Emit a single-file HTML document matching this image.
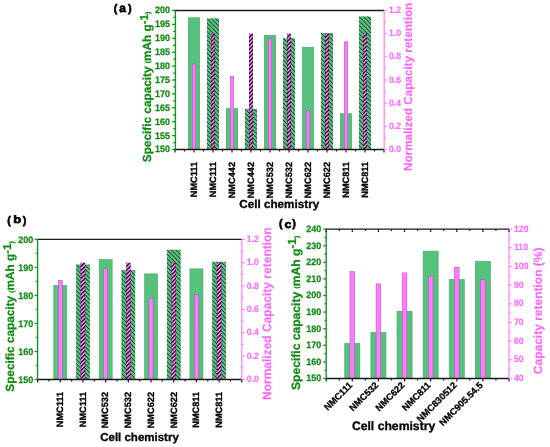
<!DOCTYPE html>
<html><head><meta charset="utf-8"><style>
html,body{margin:0;padding:0;background:#fff;}
body{width:550px;height:447px;overflow:hidden;font-family:"Liberation Sans",sans-serif;}
svg{display:block;will-change:transform;text-rendering:geometricPrecision;}
</style></head><body>
<svg width="550" height="447" viewBox="0 0 550 447">
<defs>
<filter id="sb" x="-0.1" y="-0.1" width="1.2" height="1.2"><feGaussianBlur stdDeviation="0.35"/></filter>
</defs>
<rect width="550" height="447" fill="#fff"/>
<rect x="188.3" y="17.75" width="11.4" height="131.75" fill="#56c17c" stroke="#45a866" stroke-width="0.6"/>
<rect x="192.25" y="64.03" width="3.5" height="85.47" fill="#ff7aff" stroke="#a850a8" stroke-width="0.5"/>
<rect x="207.3" y="18.86" width="11.4" height="130.64" fill="#56c17c" stroke="#45a866" stroke-width="0.6"/>
<clipPath id="c1"><rect x="207" y="18.56" width="12" height="130.94"/></clipPath><path clip-path="url(#c1)" d="M68.4,17.56L201.34,150.5M72.7,17.56L205.64,150.5M77,17.56L209.94,150.5M81.3,17.56L214.24,150.5M85.6,17.56L218.54,150.5M89.9,17.56L222.84,150.5M94.2,17.56L227.14,150.5M98.5,17.56L231.44,150.5M102.8,17.56L235.74,150.5M107.1,17.56L240.04,150.5M111.4,17.56L244.34,150.5M115.7,17.56L248.64,150.5M120,17.56L252.94,150.5M124.3,17.56L257.24,150.5M128.6,17.56L261.54,150.5M132.9,17.56L265.84,150.5M137.2,17.56L270.14,150.5M141.5,17.56L274.44,150.5M145.8,17.56L278.74,150.5M150.1,17.56L283.04,150.5M154.4,17.56L287.34,150.5M158.7,17.56L291.64,150.5M163,17.56L295.94,150.5M167.3,17.56L300.24,150.5M171.6,17.56L304.54,150.5M175.9,17.56L308.84,150.5M180.2,17.56L313.14,150.5M184.5,17.56L317.44,150.5M188.8,17.56L321.74,150.5M193.1,17.56L326.04,150.5M197.4,17.56L330.34,150.5M201.7,17.56L334.64,150.5M206,17.56L338.94,150.5M210.3,17.56L343.24,150.5M214.6,17.56L347.54,150.5M218.9,17.56L351.84,150.5" stroke="#000" stroke-width="0.75" fill="none" filter="url(#sb)"/>
<rect x="211.25" y="33.92" width="3.5" height="115.58" fill="#ff7aff" stroke="#a850a8" stroke-width="0.5"/>
<clipPath id="c2"><rect x="211" y="33.67" width="4" height="115.83"/></clipPath><path clip-path="url(#c2)" d="M208,32.67L90.17,150.5M212,32.67L94.17,150.5M216,32.67L98.17,150.5M220,32.67L102.17,150.5M224,32.67L106.17,150.5M228,32.67L110.17,150.5M232,32.67L114.17,150.5M236,32.67L118.17,150.5M240,32.67L122.17,150.5M244,32.67L126.17,150.5M248,32.67L130.17,150.5M252,32.67L134.17,150.5M256,32.67L138.17,150.5M260,32.67L142.17,150.5M264,32.67L146.17,150.5M268,32.67L150.17,150.5M272,32.67L154.17,150.5M276,32.67L158.17,150.5M280,32.67L162.17,150.5M284,32.67L166.17,150.5M288,32.67L170.17,150.5M292,32.67L174.17,150.5M296,32.67L178.17,150.5M300,32.67L182.17,150.5M304,32.67L186.17,150.5M308,32.67L190.17,150.5M312,32.67L194.17,150.5M316,32.67L198.17,150.5M320,32.67L202.17,150.5M324,32.67L206.17,150.5M328,32.67L210.17,150.5M332,32.67L214.17,150.5" stroke="#000" stroke-width="1.05" fill="none"/>
<rect x="226.3" y="108.66" width="11.4" height="40.84" fill="#56c17c" stroke="#45a866" stroke-width="0.6"/>
<rect x="230.25" y="76.54" width="3.5" height="72.96" fill="#ff7aff" stroke="#a850a8" stroke-width="0.5"/>
<rect x="245.3" y="109.21" width="11.4" height="40.29" fill="#56c17c" stroke="#45a866" stroke-width="0.6"/>
<clipPath id="c3"><rect x="245" y="108.91" width="12" height="40.59"/></clipPath><path clip-path="url(#c3)" d="M196.7,107.91L239.29,150.5M201,107.91L243.59,150.5M205.3,107.91L247.89,150.5M209.6,107.91L252.19,150.5M213.9,107.91L256.49,150.5M218.2,107.91L260.79,150.5M222.5,107.91L265.09,150.5M226.8,107.91L269.39,150.5M231.1,107.91L273.69,150.5M235.4,107.91L277.99,150.5M239.7,107.91L282.29,150.5M244,107.91L286.59,150.5M248.3,107.91L290.89,150.5M252.6,107.91L295.19,150.5M256.9,107.91L299.49,150.5" stroke="#000" stroke-width="0.75" fill="none" filter="url(#sb)"/>
<rect x="249.25" y="33.92" width="3.5" height="115.58" fill="#ff7aff" stroke="#a850a8" stroke-width="0.5"/>
<clipPath id="c4"><rect x="249" y="33.67" width="4" height="115.83"/></clipPath><path clip-path="url(#c4)" d="M246,32.67L128.17,150.5M250,32.67L132.17,150.5M254,32.67L136.17,150.5M258,32.67L140.17,150.5M262,32.67L144.17,150.5M266,32.67L148.17,150.5M270,32.67L152.17,150.5M274,32.67L156.17,150.5M278,32.67L160.17,150.5M282,32.67L164.17,150.5M286,32.67L168.17,150.5M290,32.67L172.17,150.5M294,32.67L176.17,150.5M298,32.67L180.17,150.5M302,32.67L184.17,150.5M306,32.67L188.17,150.5M310,32.67L192.17,150.5M314,32.67L196.17,150.5M318,32.67L200.17,150.5M322,32.67L204.17,150.5M326,32.67L208.17,150.5M330,32.67L212.17,150.5M334,32.67L216.17,150.5M338,32.67L220.17,150.5M342,32.67L224.17,150.5M346,32.67L228.17,150.5M350,32.67L232.17,150.5M354,32.67L236.17,150.5M358,32.67L240.17,150.5M362,32.67L244.17,150.5M366,32.67L248.17,150.5M370,32.67L252.17,150.5" stroke="#000" stroke-width="1.05" fill="none"/>
<rect x="264.3" y="35.26" width="11.4" height="114.24" fill="#56c17c" stroke="#45a866" stroke-width="0.6"/>
<rect x="268.25" y="38.78" width="3.5" height="110.72" fill="#ff7aff" stroke="#a850a8" stroke-width="0.5"/>
<rect x="283.3" y="38.6" width="11.4" height="110.9" fill="#56c17c" stroke="#45a866" stroke-width="0.6"/>
<clipPath id="c5"><rect x="283" y="38.3" width="12" height="111.2"/></clipPath><path clip-path="url(#c5)" d="M165.9,37.3L279.1,150.5M170.2,37.3L283.4,150.5M174.5,37.3L287.7,150.5M178.8,37.3L292,150.5M183.1,37.3L296.3,150.5M187.4,37.3L300.6,150.5M191.7,37.3L304.9,150.5M196,37.3L309.2,150.5M200.3,37.3L313.5,150.5M204.6,37.3L317.8,150.5M208.9,37.3L322.1,150.5M213.2,37.3L326.4,150.5M217.5,37.3L330.7,150.5M221.8,37.3L335,150.5M226.1,37.3L339.3,150.5M230.4,37.3L343.6,150.5M234.7,37.3L347.9,150.5M239,37.3L352.2,150.5M243.3,37.3L356.5,150.5M247.6,37.3L360.8,150.5M251.9,37.3L365.1,150.5M256.2,37.3L369.4,150.5M260.5,37.3L373.7,150.5M264.8,37.3L378,150.5M269.1,37.3L382.3,150.5M273.4,37.3L386.6,150.5M277.7,37.3L390.9,150.5M282,37.3L395.2,150.5M286.3,37.3L399.5,150.5M290.6,37.3L403.8,150.5M294.9,37.3L408.1,150.5" stroke="#000" stroke-width="0.75" fill="none" filter="url(#sb)"/>
<rect x="287.25" y="33.92" width="3.5" height="115.58" fill="#ff7aff" stroke="#a850a8" stroke-width="0.5"/>
<clipPath id="c6"><rect x="287" y="33.67" width="4" height="115.83"/></clipPath><path clip-path="url(#c6)" d="M284,32.67L166.17,150.5M288,32.67L170.17,150.5M292,32.67L174.17,150.5M296,32.67L178.17,150.5M300,32.67L182.17,150.5M304,32.67L186.17,150.5M308,32.67L190.17,150.5M312,32.67L194.17,150.5M316,32.67L198.17,150.5M320,32.67L202.17,150.5M324,32.67L206.17,150.5M328,32.67L210.17,150.5M332,32.67L214.17,150.5M336,32.67L218.17,150.5M340,32.67L222.17,150.5M344,32.67L226.17,150.5M348,32.67L230.17,150.5M352,32.67L234.17,150.5M356,32.67L238.17,150.5M360,32.67L242.17,150.5M364,32.67L246.17,150.5M368,32.67L250.17,150.5M372,32.67L254.17,150.5M376,32.67L258.17,150.5M380,32.67L262.17,150.5M384,32.67L266.17,150.5M388,32.67L270.17,150.5M392,32.67L274.17,150.5M396,32.67L278.17,150.5M400,32.67L282.17,150.5M404,32.67L286.17,150.5M408,32.67L290.17,150.5" stroke="#000" stroke-width="1.05" fill="none"/>
<rect x="302.3" y="47.22" width="11.4" height="102.28" fill="#56c17c" stroke="#45a866" stroke-width="0.6"/>
<rect x="306.25" y="110.37" width="3.5" height="39.13" fill="#ff7aff" stroke="#a850a8" stroke-width="0.5"/>
<rect x="321.3" y="33.32" width="11.4" height="116.18" fill="#56c17c" stroke="#45a866" stroke-width="0.6"/>
<clipPath id="c7"><rect x="321" y="33.02" width="12" height="116.48"/></clipPath><path clip-path="url(#c7)" d="M195.3,32.02L313.78,150.5M199.6,32.02L318.08,150.5M203.9,32.02L322.38,150.5M208.2,32.02L326.68,150.5M212.5,32.02L330.98,150.5M216.8,32.02L335.28,150.5M221.1,32.02L339.58,150.5M225.4,32.02L343.88,150.5M229.7,32.02L348.18,150.5M234,32.02L352.48,150.5M238.3,32.02L356.78,150.5M242.6,32.02L361.08,150.5M246.9,32.02L365.38,150.5M251.2,32.02L369.68,150.5M255.5,32.02L373.98,150.5M259.8,32.02L378.28,150.5M264.1,32.02L382.58,150.5M268.4,32.02L386.88,150.5M272.7,32.02L391.18,150.5M277,32.02L395.48,150.5M281.3,32.02L399.78,150.5M285.6,32.02L404.08,150.5M289.9,32.02L408.38,150.5M294.2,32.02L412.68,150.5M298.5,32.02L416.98,150.5M302.8,32.02L421.28,150.5M307.1,32.02L425.58,150.5M311.4,32.02L429.88,150.5M315.7,32.02L434.18,150.5M320,32.02L438.48,150.5M324.3,32.02L442.78,150.5M328.6,32.02L447.08,150.5M332.9,32.02L451.38,150.5" stroke="#000" stroke-width="0.75" fill="none" filter="url(#sb)"/>
<rect x="325.25" y="33.92" width="3.5" height="115.58" fill="#ff7aff" stroke="#a850a8" stroke-width="0.5"/>
<clipPath id="c8"><rect x="325" y="33.67" width="4" height="115.83"/></clipPath><path clip-path="url(#c8)" d="M322,32.67L204.17,150.5M326,32.67L208.17,150.5M330,32.67L212.17,150.5M334,32.67L216.17,150.5M338,32.67L220.17,150.5M342,32.67L224.17,150.5M346,32.67L228.17,150.5M350,32.67L232.17,150.5M354,32.67L236.17,150.5M358,32.67L240.17,150.5M362,32.67L244.17,150.5M366,32.67L248.17,150.5M370,32.67L252.17,150.5M374,32.67L256.17,150.5M378,32.67L260.17,150.5M382,32.67L264.17,150.5M386,32.67L268.17,150.5M390,32.67L272.17,150.5M394,32.67L276.17,150.5M398,32.67L280.17,150.5M402,32.67L284.17,150.5M406,32.67L288.17,150.5M410,32.67L292.17,150.5M414,32.67L296.17,150.5M418,32.67L300.17,150.5M422,32.67L304.17,150.5M426,32.67L308.17,150.5M430,32.67L312.17,150.5M434,32.67L316.17,150.5M438,32.67L320.17,150.5M442,32.67L324.17,150.5M446,32.67L328.17,150.5" stroke="#000" stroke-width="1.05" fill="none"/>
<rect x="340.3" y="113.66" width="11.4" height="35.84" fill="#56c17c" stroke="#45a866" stroke-width="0.6"/>
<rect x="344.25" y="41.79" width="3.5" height="107.71" fill="#ff7aff" stroke="#a850a8" stroke-width="0.5"/>
<rect x="359.3" y="16.92" width="11.4" height="132.58" fill="#56c17c" stroke="#45a866" stroke-width="0.6"/>
<clipPath id="c9"><rect x="359" y="16.62" width="12" height="132.88"/></clipPath><path clip-path="url(#c9)" d="M220.4,15.62L355.28,150.5M224.7,15.62L359.58,150.5M229,15.62L363.88,150.5M233.3,15.62L368.18,150.5M237.6,15.62L372.48,150.5M241.9,15.62L376.78,150.5M246.2,15.62L381.08,150.5M250.5,15.62L385.38,150.5M254.8,15.62L389.68,150.5M259.1,15.62L393.98,150.5M263.4,15.62L398.28,150.5M267.7,15.62L402.58,150.5M272,15.62L406.88,150.5M276.3,15.62L411.18,150.5M280.6,15.62L415.48,150.5M284.9,15.62L419.78,150.5M289.2,15.62L424.08,150.5M293.5,15.62L428.38,150.5M297.8,15.62L432.68,150.5M302.1,15.62L436.98,150.5M306.4,15.62L441.28,150.5M310.7,15.62L445.58,150.5M315,15.62L449.88,150.5M319.3,15.62L454.18,150.5M323.6,15.62L458.48,150.5M327.9,15.62L462.78,150.5M332.2,15.62L467.08,150.5M336.5,15.62L471.38,150.5M340.8,15.62L475.68,150.5M345.1,15.62L479.98,150.5M349.4,15.62L484.28,150.5M353.7,15.62L488.58,150.5M358,15.62L492.88,150.5M362.3,15.62L497.18,150.5M366.6,15.62L501.48,150.5M370.9,15.62L505.78,150.5" stroke="#000" stroke-width="0.75" fill="none" filter="url(#sb)"/>
<rect x="363.25" y="33.92" width="3.5" height="115.58" fill="#ff7aff" stroke="#a850a8" stroke-width="0.5"/>
<clipPath id="c10"><rect x="363" y="33.67" width="4" height="115.83"/></clipPath><path clip-path="url(#c10)" d="M360,32.67L242.17,150.5M364,32.67L246.17,150.5M368,32.67L250.17,150.5M372,32.67L254.17,150.5M376,32.67L258.17,150.5M380,32.67L262.17,150.5M384,32.67L266.17,150.5M388,32.67L270.17,150.5M392,32.67L274.17,150.5M396,32.67L278.17,150.5M400,32.67L282.17,150.5M404,32.67L286.17,150.5M408,32.67L290.17,150.5M412,32.67L294.17,150.5M416,32.67L298.17,150.5M420,32.67L302.17,150.5M424,32.67L306.17,150.5M428,32.67L310.17,150.5M432,32.67L314.17,150.5M436,32.67L318.17,150.5M440,32.67L322.17,150.5M444,32.67L326.17,150.5M448,32.67L330.17,150.5M452,32.67L334.17,150.5M456,32.67L338.17,150.5M460,32.67L342.17,150.5M464,32.67L346.17,150.5M468,32.67L350.17,150.5M472,32.67L354.17,150.5M476,32.67L358.17,150.5M480,32.67L362.17,150.5M484,32.67L366.17,150.5" stroke="#000" stroke-width="1.05" fill="none"/>
<line x1="174.5" y1="10.5" x2="384" y2="10.5" stroke="#1a1a1a" stroke-width="1.3"/>
<line x1="174.5" y1="149.5" x2="384" y2="149.5" stroke="#1a1a1a" stroke-width="1.3"/>
<line x1="175.4" y1="10.5" x2="175.4" y2="149.5" stroke="#14961e" stroke-width="1.4"/>
<line x1="384.2" y1="10.5" x2="384.2" y2="149.5" stroke="#ff7eff" stroke-width="1.2"/>
<line x1="175" y1="149.5" x2="175" y2="152.5" stroke="#1a1a1a" stroke-width="1.2"/>
<line x1="184.5" y1="149.5" x2="184.5" y2="151.5" stroke="#1a1a1a" stroke-width="1.2"/>
<line x1="194" y1="149.5" x2="194" y2="152.5" stroke="#1a1a1a" stroke-width="1.2"/>
<line x1="203.5" y1="149.5" x2="203.5" y2="151.5" stroke="#1a1a1a" stroke-width="1.2"/>
<line x1="213" y1="149.5" x2="213" y2="152.5" stroke="#1a1a1a" stroke-width="1.2"/>
<line x1="222.5" y1="149.5" x2="222.5" y2="151.5" stroke="#1a1a1a" stroke-width="1.2"/>
<line x1="232" y1="149.5" x2="232" y2="152.5" stroke="#1a1a1a" stroke-width="1.2"/>
<line x1="241.5" y1="149.5" x2="241.5" y2="151.5" stroke="#1a1a1a" stroke-width="1.2"/>
<line x1="251" y1="149.5" x2="251" y2="152.5" stroke="#1a1a1a" stroke-width="1.2"/>
<line x1="260.5" y1="149.5" x2="260.5" y2="151.5" stroke="#1a1a1a" stroke-width="1.2"/>
<line x1="270" y1="149.5" x2="270" y2="152.5" stroke="#1a1a1a" stroke-width="1.2"/>
<line x1="279.5" y1="149.5" x2="279.5" y2="151.5" stroke="#1a1a1a" stroke-width="1.2"/>
<line x1="289" y1="149.5" x2="289" y2="152.5" stroke="#1a1a1a" stroke-width="1.2"/>
<line x1="298.5" y1="149.5" x2="298.5" y2="151.5" stroke="#1a1a1a" stroke-width="1.2"/>
<line x1="308" y1="149.5" x2="308" y2="152.5" stroke="#1a1a1a" stroke-width="1.2"/>
<line x1="317.5" y1="149.5" x2="317.5" y2="151.5" stroke="#1a1a1a" stroke-width="1.2"/>
<line x1="327" y1="149.5" x2="327" y2="152.5" stroke="#1a1a1a" stroke-width="1.2"/>
<line x1="336.5" y1="149.5" x2="336.5" y2="151.5" stroke="#1a1a1a" stroke-width="1.2"/>
<line x1="346" y1="149.5" x2="346" y2="152.5" stroke="#1a1a1a" stroke-width="1.2"/>
<line x1="355.5" y1="149.5" x2="355.5" y2="151.5" stroke="#1a1a1a" stroke-width="1.2"/>
<line x1="365" y1="149.5" x2="365" y2="152.5" stroke="#1a1a1a" stroke-width="1.2"/>
<line x1="374.5" y1="149.5" x2="374.5" y2="151.5" stroke="#1a1a1a" stroke-width="1.2"/>
<line x1="384" y1="149.5" x2="384" y2="152.5" stroke="#1a1a1a" stroke-width="1.2"/>
<line x1="175" y1="149.5" x2="172" y2="149.5" stroke="#14961e" stroke-width="1.3"/>
<text stroke="#128a14" stroke-width="0.25" transform="translate(170,152.4) scale(0.96,1)" text-anchor="end" font-size="9.4" fill="#128a14" font-family="Liberation Sans, sans-serif" font-weight="bold">150</text>
<line x1="175" y1="142.55" x2="173.2" y2="142.55" stroke="#14961e" stroke-width="1.3"/>
<line x1="175" y1="135.6" x2="172" y2="135.6" stroke="#14961e" stroke-width="1.3"/>
<text stroke="#128a14" stroke-width="0.25" transform="translate(170,138.5) scale(0.96,1)" text-anchor="end" font-size="9.4" fill="#128a14" font-family="Liberation Sans, sans-serif" font-weight="bold">155</text>
<line x1="175" y1="128.65" x2="173.2" y2="128.65" stroke="#14961e" stroke-width="1.3"/>
<line x1="175" y1="121.7" x2="172" y2="121.7" stroke="#14961e" stroke-width="1.3"/>
<text stroke="#128a14" stroke-width="0.25" transform="translate(170,124.6) scale(0.96,1)" text-anchor="end" font-size="9.4" fill="#128a14" font-family="Liberation Sans, sans-serif" font-weight="bold">160</text>
<line x1="175" y1="114.75" x2="173.2" y2="114.75" stroke="#14961e" stroke-width="1.3"/>
<line x1="175" y1="107.8" x2="172" y2="107.8" stroke="#14961e" stroke-width="1.3"/>
<text stroke="#128a14" stroke-width="0.25" transform="translate(170,110.7) scale(0.96,1)" text-anchor="end" font-size="9.4" fill="#128a14" font-family="Liberation Sans, sans-serif" font-weight="bold">165</text>
<line x1="175" y1="100.85" x2="173.2" y2="100.85" stroke="#14961e" stroke-width="1.3"/>
<line x1="175" y1="93.9" x2="172" y2="93.9" stroke="#14961e" stroke-width="1.3"/>
<text stroke="#128a14" stroke-width="0.25" transform="translate(170,96.8) scale(0.96,1)" text-anchor="end" font-size="9.4" fill="#128a14" font-family="Liberation Sans, sans-serif" font-weight="bold">170</text>
<line x1="175" y1="86.95" x2="173.2" y2="86.95" stroke="#14961e" stroke-width="1.3"/>
<line x1="175" y1="80" x2="172" y2="80" stroke="#14961e" stroke-width="1.3"/>
<text stroke="#128a14" stroke-width="0.25" transform="translate(170,82.9) scale(0.96,1)" text-anchor="end" font-size="9.4" fill="#128a14" font-family="Liberation Sans, sans-serif" font-weight="bold">175</text>
<line x1="175" y1="73.05" x2="173.2" y2="73.05" stroke="#14961e" stroke-width="1.3"/>
<line x1="175" y1="66.1" x2="172" y2="66.1" stroke="#14961e" stroke-width="1.3"/>
<text stroke="#128a14" stroke-width="0.25" transform="translate(170,69) scale(0.96,1)" text-anchor="end" font-size="9.4" fill="#128a14" font-family="Liberation Sans, sans-serif" font-weight="bold">180</text>
<line x1="175" y1="59.15" x2="173.2" y2="59.15" stroke="#14961e" stroke-width="1.3"/>
<line x1="175" y1="52.2" x2="172" y2="52.2" stroke="#14961e" stroke-width="1.3"/>
<text stroke="#128a14" stroke-width="0.25" transform="translate(170,55.1) scale(0.96,1)" text-anchor="end" font-size="9.4" fill="#128a14" font-family="Liberation Sans, sans-serif" font-weight="bold">185</text>
<line x1="175" y1="45.25" x2="173.2" y2="45.25" stroke="#14961e" stroke-width="1.3"/>
<line x1="175" y1="38.3" x2="172" y2="38.3" stroke="#14961e" stroke-width="1.3"/>
<text stroke="#128a14" stroke-width="0.25" transform="translate(170,41.2) scale(0.96,1)" text-anchor="end" font-size="9.4" fill="#128a14" font-family="Liberation Sans, sans-serif" font-weight="bold">190</text>
<line x1="175" y1="31.35" x2="173.2" y2="31.35" stroke="#14961e" stroke-width="1.3"/>
<line x1="175" y1="24.4" x2="172" y2="24.4" stroke="#14961e" stroke-width="1.3"/>
<text stroke="#128a14" stroke-width="0.25" transform="translate(170,27.3) scale(0.96,1)" text-anchor="end" font-size="9.4" fill="#128a14" font-family="Liberation Sans, sans-serif" font-weight="bold">195</text>
<line x1="175" y1="17.45" x2="173.2" y2="17.45" stroke="#14961e" stroke-width="1.3"/>
<line x1="175" y1="10.5" x2="172" y2="10.5" stroke="#14961e" stroke-width="1.3"/>
<text stroke="#128a14" stroke-width="0.25" transform="translate(170,13.4) scale(0.96,1)" text-anchor="end" font-size="9.4" fill="#128a14" font-family="Liberation Sans, sans-serif" font-weight="bold">200</text>
<line x1="384" y1="149.5" x2="387" y2="149.5" stroke="#ff7eff" stroke-width="1.1"/>
<text stroke="#ff66ff" transform="translate(389,152.1) scale(0.93,1)" font-size="9.4" stroke-width="0.1" fill="#ff66ff" font-family="Liberation Sans, sans-serif" font-weight="bold">0.0</text>
<line x1="384" y1="137.92" x2="385.8" y2="137.92" stroke="#ff7eff" stroke-width="1.1"/>
<line x1="384" y1="126.33" x2="387" y2="126.33" stroke="#ff7eff" stroke-width="1.1"/>
<text stroke="#ff66ff" transform="translate(389,128.93) scale(0.93,1)" font-size="9.4" stroke-width="0.1" fill="#ff66ff" font-family="Liberation Sans, sans-serif" font-weight="bold">0.2</text>
<line x1="384" y1="114.75" x2="385.8" y2="114.75" stroke="#ff7eff" stroke-width="1.1"/>
<line x1="384" y1="103.17" x2="387" y2="103.17" stroke="#ff7eff" stroke-width="1.1"/>
<text stroke="#ff66ff" transform="translate(389,105.77) scale(0.93,1)" font-size="9.4" stroke-width="0.1" fill="#ff66ff" font-family="Liberation Sans, sans-serif" font-weight="bold">0.4</text>
<line x1="384" y1="91.58" x2="385.8" y2="91.58" stroke="#ff7eff" stroke-width="1.1"/>
<line x1="384" y1="80" x2="387" y2="80" stroke="#ff7eff" stroke-width="1.1"/>
<text stroke="#ff66ff" transform="translate(389,82.6) scale(0.93,1)" font-size="9.4" stroke-width="0.1" fill="#ff66ff" font-family="Liberation Sans, sans-serif" font-weight="bold">0.6</text>
<line x1="384" y1="68.42" x2="385.8" y2="68.42" stroke="#ff7eff" stroke-width="1.1"/>
<line x1="384" y1="56.83" x2="387" y2="56.83" stroke="#ff7eff" stroke-width="1.1"/>
<text stroke="#ff66ff" transform="translate(389,59.43) scale(0.93,1)" font-size="9.4" stroke-width="0.1" fill="#ff66ff" font-family="Liberation Sans, sans-serif" font-weight="bold">0.8</text>
<line x1="384" y1="45.25" x2="385.8" y2="45.25" stroke="#ff7eff" stroke-width="1.1"/>
<line x1="384" y1="33.67" x2="387" y2="33.67" stroke="#ff7eff" stroke-width="1.1"/>
<text stroke="#ff66ff" transform="translate(389,36.27) scale(0.93,1)" font-size="9.4" stroke-width="0.1" fill="#ff66ff" font-family="Liberation Sans, sans-serif" font-weight="bold">1.0</text>
<line x1="384" y1="22.08" x2="385.8" y2="22.08" stroke="#ff7eff" stroke-width="1.1"/>
<line x1="384" y1="10.5" x2="387" y2="10.5" stroke="#ff7eff" stroke-width="1.1"/>
<text stroke="#ff66ff" transform="translate(389,13.1) scale(0.93,1)" font-size="9.4" stroke-width="0.1" fill="#ff66ff" font-family="Liberation Sans, sans-serif" font-weight="bold">1.2</text>
<text stroke="#000" stroke-width="0.3" transform="translate(196.7,162) rotate(-90)" text-anchor="end" font-size="9.2" fill="#000" font-family="Liberation Sans, sans-serif" font-weight="bold">NMC111</text>
<text stroke="#000" stroke-width="0.3" transform="translate(215.7,162) rotate(-90)" text-anchor="end" font-size="9.2" fill="#000" font-family="Liberation Sans, sans-serif" font-weight="bold">NMC111</text>
<text stroke="#000" stroke-width="0.3" transform="translate(234.7,162) rotate(-90)" text-anchor="end" font-size="9.2" fill="#000" font-family="Liberation Sans, sans-serif" font-weight="bold">NMC442</text>
<text stroke="#000" stroke-width="0.3" transform="translate(253.7,162) rotate(-90)" text-anchor="end" font-size="9.2" fill="#000" font-family="Liberation Sans, sans-serif" font-weight="bold">NMC442</text>
<text stroke="#000" stroke-width="0.3" transform="translate(272.7,162) rotate(-90)" text-anchor="end" font-size="9.2" fill="#000" font-family="Liberation Sans, sans-serif" font-weight="bold">NMC532</text>
<text stroke="#000" stroke-width="0.3" transform="translate(291.7,162) rotate(-90)" text-anchor="end" font-size="9.2" fill="#000" font-family="Liberation Sans, sans-serif" font-weight="bold">NMC532</text>
<text stroke="#000" stroke-width="0.3" transform="translate(310.7,162) rotate(-90)" text-anchor="end" font-size="9.2" fill="#000" font-family="Liberation Sans, sans-serif" font-weight="bold">NMC622</text>
<text stroke="#000" stroke-width="0.3" transform="translate(329.7,162) rotate(-90)" text-anchor="end" font-size="9.2" fill="#000" font-family="Liberation Sans, sans-serif" font-weight="bold">NMC622</text>
<text stroke="#000" stroke-width="0.3" transform="translate(348.7,162) rotate(-90)" text-anchor="end" font-size="9.2" fill="#000" font-family="Liberation Sans, sans-serif" font-weight="bold">NMC811</text>
<text stroke="#000" stroke-width="0.3" transform="translate(367.7,162) rotate(-90)" text-anchor="end" font-size="9.2" fill="#000" font-family="Liberation Sans, sans-serif" font-weight="bold">NMC811</text>
<text stroke="#000" stroke-width="0.3" x="239.3" y="208" font-size="11.7" fill="#000" font-family="Liberation Sans, sans-serif" font-weight="bold">Cell chemistry</text>
<text stroke="#128a14" stroke-width="0.25" transform="translate(151,162.2) rotate(-90)" font-size="11.8" fill="#128a14" font-family="Liberation Sans, sans-serif" font-weight="bold">Specific capacity <tspan font-size="6.8" dy="-0.7">(</tspan><tspan dy="0.7">mAh g</tspan><tspan font-size="11.51" dy="-3.5">-1</tspan><tspan font-size="6.8" dy="2.8">)</tspan></text>
<text stroke="#ff66ff" transform="translate(411.9,171) rotate(-90)" font-size="11.7" stroke-width="0.12" fill="#ff66ff" font-family="Liberation Sans, sans-serif" font-weight="bold">Normalized Capacity retention</text>
<text stroke="#000" x="113.7" y="12.2" font-size="10.9" fill="#000" stroke-width="0.6" font-family="Liberation Sans, sans-serif" font-weight="bold">(</text>
<text stroke="#000" transform="translate(119.3,12.4) scale(1,1)" font-size="12" fill="#000" stroke-width="0.7" font-family="Liberation Sans, sans-serif" font-weight="bold">a</text>
<text stroke="#000" x="128.1" y="12.2" font-size="10.9" fill="#000" stroke-width="0.6" font-family="Liberation Sans, sans-serif" font-weight="bold">)</text>
<rect x="53.78" y="285.37" width="13.01" height="94.13" fill="#56c17c" stroke="#45a866" stroke-width="0.6"/>
<rect x="58.27" y="280.4" width="4.04" height="99.1" fill="#ff7aff" stroke="#a850a8" stroke-width="0.5"/>
<rect x="76.47" y="264.92" width="13.01" height="114.58" fill="#56c17c" stroke="#45a866" stroke-width="0.6"/>
<clipPath id="c11"><rect x="76.17" y="264.62" width="13.61" height="114.88"/></clipPath><path clip-path="url(#c11)" d="M-45.23,263.62L71.65,380.5M-40.93,263.62L75.95,380.5M-36.63,263.62L80.25,380.5M-32.33,263.62L84.55,380.5M-28.03,263.62L88.85,380.5M-23.73,263.62L93.15,380.5M-19.43,263.62L97.45,380.5M-15.13,263.62L101.75,380.5M-10.83,263.62L106.05,380.5M-6.53,263.62L110.35,380.5M-2.23,263.62L114.65,380.5M2.07,263.62L118.95,380.5M6.37,263.62L123.25,380.5M10.67,263.62L127.55,380.5M14.97,263.62L131.85,380.5M19.27,263.62L136.15,380.5M23.57,263.62L140.45,380.5M27.87,263.62L144.75,380.5M32.17,263.62L149.05,380.5M36.47,263.62L153.35,380.5M40.77,263.62L157.65,380.5M45.07,263.62L161.95,380.5M49.37,263.62L166.25,380.5M53.67,263.62L170.55,380.5M57.97,263.62L174.85,380.5M62.27,263.62L179.15,380.5M66.57,263.62L183.45,380.5M70.87,263.62L187.75,380.5M75.17,263.62L192.05,380.5M79.47,263.62L196.35,380.5M83.77,263.62L200.65,380.5M88.07,263.62L204.95,380.5M92.37,263.62L209.25,380.5" stroke="#000" stroke-width="0.75" fill="none" filter="url(#sb)"/>
<rect x="80.96" y="263" width="4.04" height="116.5" fill="#ff7aff" stroke="#a850a8" stroke-width="0.5"/>
<clipPath id="c12"><rect x="80.71" y="262.75" width="4.54" height="116.75"/></clipPath><path clip-path="url(#c12)" d="M77.71,261.75L-41.04,380.5M81.71,261.75L-37.04,380.5M85.71,261.75L-33.04,380.5M89.71,261.75L-29.04,380.5M93.71,261.75L-25.04,380.5M97.71,261.75L-21.04,380.5M101.71,261.75L-17.04,380.5M105.71,261.75L-13.04,380.5M109.71,261.75L-9.04,380.5M113.71,261.75L-5.04,380.5M117.71,261.75L-1.04,380.5M121.71,261.75L2.96,380.5M125.71,261.75L6.96,380.5M129.71,261.75L10.96,380.5M133.71,261.75L14.96,380.5M137.71,261.75L18.96,380.5M141.71,261.75L22.96,380.5M145.71,261.75L26.96,380.5M149.71,261.75L30.96,380.5M153.71,261.75L34.96,380.5M157.71,261.75L38.96,380.5M161.71,261.75L42.96,380.5M165.71,261.75L46.96,380.5M169.71,261.75L50.96,380.5M173.71,261.75L54.96,380.5M177.71,261.75L58.96,380.5M181.71,261.75L62.96,380.5M185.71,261.75L66.96,380.5M189.71,261.75L70.96,380.5M193.71,261.75L74.96,380.5M197.71,261.75L78.96,380.5M201.71,261.75L82.96,380.5M205.71,261.75L86.96,380.5" stroke="#000" stroke-width="1.05" fill="none"/>
<rect x="99.16" y="259.59" width="13.01" height="119.91" fill="#56c17c" stroke="#45a866" stroke-width="0.6"/>
<rect x="103.65" y="268.84" width="4.04" height="110.66" fill="#ff7aff" stroke="#a850a8" stroke-width="0.5"/>
<rect x="121.85" y="270.52" width="13.01" height="108.98" fill="#56c17c" stroke="#45a866" stroke-width="0.6"/>
<clipPath id="c13"><rect x="121.55" y="270.22" width="13.61" height="109.28"/></clipPath><path clip-path="url(#c13)" d="M4.45,269.22L115.73,380.5M8.75,269.22L120.03,380.5M13.05,269.22L124.33,380.5M17.35,269.22L128.63,380.5M21.65,269.22L132.93,380.5M25.95,269.22L137.23,380.5M30.25,269.22L141.53,380.5M34.55,269.22L145.83,380.5M38.85,269.22L150.13,380.5M43.15,269.22L154.43,380.5M47.45,269.22L158.73,380.5M51.75,269.22L163.03,380.5M56.05,269.22L167.33,380.5M60.35,269.22L171.63,380.5M64.65,269.22L175.93,380.5M68.95,269.22L180.23,380.5M73.25,269.22L184.53,380.5M77.55,269.22L188.83,380.5M81.85,269.22L193.13,380.5M86.15,269.22L197.43,380.5M90.45,269.22L201.73,380.5M94.75,269.22L206.03,380.5M99.05,269.22L210.33,380.5M103.35,269.22L214.63,380.5M107.65,269.22L218.93,380.5M111.95,269.22L223.23,380.5M116.25,269.22L227.53,380.5M120.55,269.22L231.83,380.5M124.85,269.22L236.13,380.5M129.15,269.22L240.43,380.5M133.45,269.22L244.73,380.5M137.75,269.22L249.03,380.5" stroke="#000" stroke-width="0.75" fill="none" filter="url(#sb)"/>
<rect x="126.34" y="263" width="4.04" height="116.5" fill="#ff7aff" stroke="#a850a8" stroke-width="0.5"/>
<clipPath id="c14"><rect x="126.09" y="262.75" width="4.54" height="116.75"/></clipPath><path clip-path="url(#c14)" d="M123.09,261.75L4.34,380.5M127.09,261.75L8.34,380.5M131.09,261.75L12.34,380.5M135.09,261.75L16.34,380.5M139.09,261.75L20.34,380.5M143.09,261.75L24.34,380.5M147.09,261.75L28.34,380.5M151.09,261.75L32.34,380.5M155.09,261.75L36.34,380.5M159.09,261.75L40.34,380.5M163.09,261.75L44.34,380.5M167.09,261.75L48.34,380.5M171.09,261.75L52.34,380.5M175.09,261.75L56.34,380.5M179.09,261.75L60.34,380.5M183.09,261.75L64.34,380.5M187.09,261.75L68.34,380.5M191.09,261.75L72.34,380.5M195.09,261.75L76.34,380.5M199.09,261.75L80.34,380.5M203.09,261.75L84.34,380.5M207.09,261.75L88.34,380.5M211.09,261.75L92.34,380.5M215.09,261.75L96.34,380.5M219.09,261.75L100.34,380.5M223.09,261.75L104.34,380.5M227.09,261.75L108.34,380.5M231.09,261.75L112.34,380.5M235.09,261.75L116.34,380.5M239.09,261.75L120.34,380.5M243.09,261.75L124.34,380.5M247.09,261.75L128.34,380.5M251.09,261.75L132.34,380.5" stroke="#000" stroke-width="1.05" fill="none"/>
<rect x="144.54" y="273.88" width="13.01" height="105.62" fill="#56c17c" stroke="#45a866" stroke-width="0.6"/>
<rect x="149.03" y="298.02" width="4.04" height="81.48" fill="#ff7aff" stroke="#a850a8" stroke-width="0.5"/>
<rect x="167.23" y="250.07" width="13.01" height="129.43" fill="#56c17c" stroke="#45a866" stroke-width="0.6"/>
<clipPath id="c15"><rect x="166.93" y="249.77" width="13.61" height="129.73"/></clipPath><path clip-path="url(#c15)" d="M28.33,248.77L160.06,380.5M32.63,248.77L164.36,380.5M36.93,248.77L168.66,380.5M41.23,248.77L172.96,380.5M45.53,248.77L177.26,380.5M49.83,248.77L181.56,380.5M54.13,248.77L185.86,380.5M58.43,248.77L190.16,380.5M62.73,248.77L194.46,380.5M67.03,248.77L198.76,380.5M71.33,248.77L203.06,380.5M75.63,248.77L207.36,380.5M79.93,248.77L211.66,380.5M84.23,248.77L215.96,380.5M88.53,248.77L220.26,380.5M92.83,248.77L224.56,380.5M97.13,248.77L228.86,380.5M101.43,248.77L233.16,380.5M105.73,248.77L237.46,380.5M110.03,248.77L241.76,380.5M114.33,248.77L246.06,380.5M118.63,248.77L250.36,380.5M122.93,248.77L254.66,380.5M127.23,248.77L258.96,380.5M131.53,248.77L263.26,380.5M135.83,248.77L267.56,380.5M140.13,248.77L271.86,380.5M144.43,248.77L276.16,380.5M148.73,248.77L280.46,380.5M153.03,248.77L284.76,380.5M157.33,248.77L289.06,380.5M161.63,248.77L293.36,380.5M165.93,248.77L297.66,380.5M170.23,248.77L301.96,380.5M174.53,248.77L306.26,380.5M178.83,248.77L310.56,380.5M183.13,248.77L314.86,380.5" stroke="#000" stroke-width="0.75" fill="none" filter="url(#sb)"/>
<rect x="171.71" y="263" width="4.04" height="116.5" fill="#ff7aff" stroke="#a850a8" stroke-width="0.5"/>
<clipPath id="c16"><rect x="171.46" y="262.75" width="4.54" height="116.75"/></clipPath><path clip-path="url(#c16)" d="M168.46,261.75L49.71,380.5M172.46,261.75L53.71,380.5M176.46,261.75L57.71,380.5M180.46,261.75L61.71,380.5M184.46,261.75L65.71,380.5M188.46,261.75L69.71,380.5M192.46,261.75L73.71,380.5M196.46,261.75L77.71,380.5M200.46,261.75L81.71,380.5M204.46,261.75L85.71,380.5M208.46,261.75L89.71,380.5M212.46,261.75L93.71,380.5M216.46,261.75L97.71,380.5M220.46,261.75L101.71,380.5M224.46,261.75L105.71,380.5M228.46,261.75L109.71,380.5M232.46,261.75L113.71,380.5M236.46,261.75L117.71,380.5M240.46,261.75L121.71,380.5M244.46,261.75L125.71,380.5M248.46,261.75L129.71,380.5M252.46,261.75L133.71,380.5M256.46,261.75L137.71,380.5M260.46,261.75L141.71,380.5M264.46,261.75L145.71,380.5M268.46,261.75L149.71,380.5M272.46,261.75L153.71,380.5M276.46,261.75L157.71,380.5M280.46,261.75L161.71,380.5M284.46,261.75L165.71,380.5M288.46,261.75L169.71,380.5M292.46,261.75L173.71,380.5M296.46,261.75L177.71,380.5" stroke="#000" stroke-width="1.05" fill="none"/>
<rect x="189.92" y="268.84" width="13.01" height="110.66" fill="#56c17c" stroke="#45a866" stroke-width="0.6"/>
<rect x="194.4" y="294.52" width="4.04" height="84.98" fill="#ff7aff" stroke="#a850a8" stroke-width="0.5"/>
<rect x="212.6" y="262.12" width="13.01" height="117.38" fill="#56c17c" stroke="#45a866" stroke-width="0.6"/>
<clipPath id="c17"><rect x="212.3" y="261.82" width="13.61" height="117.68"/></clipPath><path clip-path="url(#c17)" d="M86.6,260.82L206.29,380.5M90.9,260.82L210.59,380.5M95.2,260.82L214.89,380.5M99.5,260.82L219.19,380.5M103.8,260.82L223.49,380.5M108.1,260.82L227.79,380.5M112.4,260.82L232.09,380.5M116.7,260.82L236.39,380.5M121,260.82L240.69,380.5M125.3,260.82L244.99,380.5M129.6,260.82L249.29,380.5M133.9,260.82L253.59,380.5M138.2,260.82L257.89,380.5M142.5,260.82L262.19,380.5M146.8,260.82L266.49,380.5M151.1,260.82L270.79,380.5M155.4,260.82L275.09,380.5M159.7,260.82L279.39,380.5M164,260.82L283.69,380.5M168.3,260.82L287.99,380.5M172.6,260.82L292.29,380.5M176.9,260.82L296.59,380.5M181.2,260.82L300.89,380.5M185.5,260.82L305.19,380.5M189.8,260.82L309.49,380.5M194.1,260.82L313.79,380.5M198.4,260.82L318.09,380.5M202.7,260.82L322.39,380.5M207,260.82L326.69,380.5M211.3,260.82L330.99,380.5M215.6,260.82L335.29,380.5M219.9,260.82L339.59,380.5M224.2,260.82L343.89,380.5M228.5,260.82L348.19,380.5" stroke="#000" stroke-width="0.75" fill="none" filter="url(#sb)"/>
<rect x="217.09" y="263" width="4.04" height="116.5" fill="#ff7aff" stroke="#a850a8" stroke-width="0.5"/>
<clipPath id="c18"><rect x="216.84" y="262.75" width="4.54" height="116.75"/></clipPath><path clip-path="url(#c18)" d="M213.84,261.75L95.09,380.5M217.84,261.75L99.09,380.5M221.84,261.75L103.09,380.5M225.84,261.75L107.09,380.5M229.84,261.75L111.09,380.5M233.84,261.75L115.09,380.5M237.84,261.75L119.09,380.5M241.84,261.75L123.09,380.5M245.84,261.75L127.09,380.5M249.84,261.75L131.09,380.5M253.84,261.75L135.09,380.5M257.84,261.75L139.09,380.5M261.84,261.75L143.09,380.5M265.84,261.75L147.09,380.5M269.84,261.75L151.09,380.5M273.84,261.75L155.09,380.5M277.84,261.75L159.09,380.5M281.84,261.75L163.09,380.5M285.84,261.75L167.09,380.5M289.84,261.75L171.09,380.5M293.84,261.75L175.09,380.5M297.84,261.75L179.09,380.5M301.84,261.75L183.09,380.5M305.84,261.75L187.09,380.5M309.84,261.75L191.09,380.5M313.84,261.75L195.09,380.5M317.84,261.75L199.09,380.5M321.84,261.75L203.09,380.5M325.84,261.75L207.09,380.5M329.84,261.75L211.09,380.5M333.84,261.75L215.09,380.5M337.84,261.75L219.09,380.5M341.84,261.75L223.09,380.5" stroke="#000" stroke-width="1.05" fill="none"/>
<line x1="37.1" y1="239.4" x2="241.8" y2="239.4" stroke="#1a1a1a" stroke-width="1.3"/>
<line x1="37.1" y1="379.5" x2="241.8" y2="379.5" stroke="#1a1a1a" stroke-width="1.3"/>
<line x1="37.6" y1="239.4" x2="37.6" y2="379.5" stroke="#14961e" stroke-width="1.4"/>
<line x1="241.8" y1="239.4" x2="241.8" y2="379.5" stroke="#ff7eff" stroke-width="1.2"/>
<line x1="37.6" y1="379.5" x2="37.6" y2="382.5" stroke="#1a1a1a" stroke-width="1.2"/>
<line x1="48.94" y1="379.5" x2="48.94" y2="381.5" stroke="#1a1a1a" stroke-width="1.2"/>
<line x1="60.29" y1="379.5" x2="60.29" y2="382.5" stroke="#1a1a1a" stroke-width="1.2"/>
<line x1="71.63" y1="379.5" x2="71.63" y2="381.5" stroke="#1a1a1a" stroke-width="1.2"/>
<line x1="82.98" y1="379.5" x2="82.98" y2="382.5" stroke="#1a1a1a" stroke-width="1.2"/>
<line x1="94.32" y1="379.5" x2="94.32" y2="381.5" stroke="#1a1a1a" stroke-width="1.2"/>
<line x1="105.67" y1="379.5" x2="105.67" y2="382.5" stroke="#1a1a1a" stroke-width="1.2"/>
<line x1="117.01" y1="379.5" x2="117.01" y2="381.5" stroke="#1a1a1a" stroke-width="1.2"/>
<line x1="128.36" y1="379.5" x2="128.36" y2="382.5" stroke="#1a1a1a" stroke-width="1.2"/>
<line x1="139.7" y1="379.5" x2="139.7" y2="381.5" stroke="#1a1a1a" stroke-width="1.2"/>
<line x1="151.04" y1="379.5" x2="151.04" y2="382.5" stroke="#1a1a1a" stroke-width="1.2"/>
<line x1="162.39" y1="379.5" x2="162.39" y2="381.5" stroke="#1a1a1a" stroke-width="1.2"/>
<line x1="173.73" y1="379.5" x2="173.73" y2="382.5" stroke="#1a1a1a" stroke-width="1.2"/>
<line x1="185.08" y1="379.5" x2="185.08" y2="381.5" stroke="#1a1a1a" stroke-width="1.2"/>
<line x1="196.42" y1="379.5" x2="196.42" y2="382.5" stroke="#1a1a1a" stroke-width="1.2"/>
<line x1="207.77" y1="379.5" x2="207.77" y2="381.5" stroke="#1a1a1a" stroke-width="1.2"/>
<line x1="219.11" y1="379.5" x2="219.11" y2="382.5" stroke="#1a1a1a" stroke-width="1.2"/>
<line x1="230.46" y1="379.5" x2="230.46" y2="381.5" stroke="#1a1a1a" stroke-width="1.2"/>
<line x1="241.8" y1="379.5" x2="241.8" y2="382.5" stroke="#1a1a1a" stroke-width="1.2"/>
<line x1="37.6" y1="379.5" x2="34.6" y2="379.5" stroke="#14961e" stroke-width="1.3"/>
<text stroke="#128a14" stroke-width="0.25" transform="translate(33.2,382.9) scale(0.96,1)" text-anchor="end" font-size="9.4" fill="#128a14" font-family="Liberation Sans, sans-serif" font-weight="bold">150</text>
<line x1="37.6" y1="365.49" x2="35.8" y2="365.49" stroke="#14961e" stroke-width="1.3"/>
<line x1="37.6" y1="351.48" x2="34.6" y2="351.48" stroke="#14961e" stroke-width="1.3"/>
<text stroke="#128a14" stroke-width="0.25" transform="translate(33.2,354.88) scale(0.96,1)" text-anchor="end" font-size="9.4" fill="#128a14" font-family="Liberation Sans, sans-serif" font-weight="bold">160</text>
<line x1="37.6" y1="337.47" x2="35.8" y2="337.47" stroke="#14961e" stroke-width="1.3"/>
<line x1="37.6" y1="323.46" x2="34.6" y2="323.46" stroke="#14961e" stroke-width="1.3"/>
<text stroke="#128a14" stroke-width="0.25" transform="translate(33.2,326.86) scale(0.96,1)" text-anchor="end" font-size="9.4" fill="#128a14" font-family="Liberation Sans, sans-serif" font-weight="bold">170</text>
<line x1="37.6" y1="309.45" x2="35.8" y2="309.45" stroke="#14961e" stroke-width="1.3"/>
<line x1="37.6" y1="295.44" x2="34.6" y2="295.44" stroke="#14961e" stroke-width="1.3"/>
<text stroke="#128a14" stroke-width="0.25" transform="translate(33.2,298.84) scale(0.96,1)" text-anchor="end" font-size="9.4" fill="#128a14" font-family="Liberation Sans, sans-serif" font-weight="bold">180</text>
<line x1="37.6" y1="281.43" x2="35.8" y2="281.43" stroke="#14961e" stroke-width="1.3"/>
<line x1="37.6" y1="267.42" x2="34.6" y2="267.42" stroke="#14961e" stroke-width="1.3"/>
<text stroke="#128a14" stroke-width="0.25" transform="translate(33.2,270.82) scale(0.96,1)" text-anchor="end" font-size="9.4" fill="#128a14" font-family="Liberation Sans, sans-serif" font-weight="bold">190</text>
<line x1="37.6" y1="253.41" x2="35.8" y2="253.41" stroke="#14961e" stroke-width="1.3"/>
<line x1="37.6" y1="239.4" x2="34.6" y2="239.4" stroke="#14961e" stroke-width="1.3"/>
<text stroke="#128a14" stroke-width="0.25" transform="translate(33.2,242.8) scale(0.96,1)" text-anchor="end" font-size="9.4" fill="#128a14" font-family="Liberation Sans, sans-serif" font-weight="bold">200</text>
<line x1="241.8" y1="379.5" x2="244.8" y2="379.5" stroke="#ff7eff" stroke-width="1.1"/>
<text stroke="#ff66ff" transform="translate(246.8,382.1) scale(0.93,1)" font-size="9.4" stroke-width="0.1" fill="#ff66ff" font-family="Liberation Sans, sans-serif" font-weight="bold">0.0</text>
<line x1="241.8" y1="367.82" x2="243.6" y2="367.82" stroke="#ff7eff" stroke-width="1.1"/>
<line x1="241.8" y1="356.15" x2="244.8" y2="356.15" stroke="#ff7eff" stroke-width="1.1"/>
<text stroke="#ff66ff" transform="translate(246.8,358.75) scale(0.93,1)" font-size="9.4" stroke-width="0.1" fill="#ff66ff" font-family="Liberation Sans, sans-serif" font-weight="bold">0.2</text>
<line x1="241.8" y1="344.48" x2="243.6" y2="344.48" stroke="#ff7eff" stroke-width="1.1"/>
<line x1="241.8" y1="332.8" x2="244.8" y2="332.8" stroke="#ff7eff" stroke-width="1.1"/>
<text stroke="#ff66ff" transform="translate(246.8,335.4) scale(0.93,1)" font-size="9.4" stroke-width="0.1" fill="#ff66ff" font-family="Liberation Sans, sans-serif" font-weight="bold">0.4</text>
<line x1="241.8" y1="321.12" x2="243.6" y2="321.12" stroke="#ff7eff" stroke-width="1.1"/>
<line x1="241.8" y1="309.45" x2="244.8" y2="309.45" stroke="#ff7eff" stroke-width="1.1"/>
<text stroke="#ff66ff" transform="translate(246.8,312.05) scale(0.93,1)" font-size="9.4" stroke-width="0.1" fill="#ff66ff" font-family="Liberation Sans, sans-serif" font-weight="bold">0.6</text>
<line x1="241.8" y1="297.77" x2="243.6" y2="297.77" stroke="#ff7eff" stroke-width="1.1"/>
<line x1="241.8" y1="286.1" x2="244.8" y2="286.1" stroke="#ff7eff" stroke-width="1.1"/>
<text stroke="#ff66ff" transform="translate(246.8,288.7) scale(0.93,1)" font-size="9.4" stroke-width="0.1" fill="#ff66ff" font-family="Liberation Sans, sans-serif" font-weight="bold">0.8</text>
<line x1="241.8" y1="274.43" x2="243.6" y2="274.43" stroke="#ff7eff" stroke-width="1.1"/>
<line x1="241.8" y1="262.75" x2="244.8" y2="262.75" stroke="#ff7eff" stroke-width="1.1"/>
<text stroke="#ff66ff" transform="translate(246.8,265.35) scale(0.93,1)" font-size="9.4" stroke-width="0.1" fill="#ff66ff" font-family="Liberation Sans, sans-serif" font-weight="bold">1.0</text>
<line x1="241.8" y1="251.08" x2="243.6" y2="251.08" stroke="#ff7eff" stroke-width="1.1"/>
<line x1="241.8" y1="239.4" x2="244.8" y2="239.4" stroke="#ff7eff" stroke-width="1.1"/>
<text stroke="#ff66ff" transform="translate(246.8,242) scale(0.93,1)" font-size="9.4" stroke-width="0.1" fill="#ff66ff" font-family="Liberation Sans, sans-serif" font-weight="bold">1.2</text>
<text stroke="#000" stroke-width="0.3" transform="translate(63.09,392) rotate(-90)" text-anchor="end" font-size="9.2" fill="#000" font-family="Liberation Sans, sans-serif" font-weight="bold">NMC111</text>
<text stroke="#000" stroke-width="0.3" transform="translate(85.78,392) rotate(-90)" text-anchor="end" font-size="9.2" fill="#000" font-family="Liberation Sans, sans-serif" font-weight="bold">NMC111</text>
<text stroke="#000" stroke-width="0.3" transform="translate(108.47,392) rotate(-90)" text-anchor="end" font-size="9.2" fill="#000" font-family="Liberation Sans, sans-serif" font-weight="bold">NMC532</text>
<text stroke="#000" stroke-width="0.3" transform="translate(131.16,392) rotate(-90)" text-anchor="end" font-size="9.2" fill="#000" font-family="Liberation Sans, sans-serif" font-weight="bold">NMC532</text>
<text stroke="#000" stroke-width="0.3" transform="translate(153.84,392) rotate(-90)" text-anchor="end" font-size="9.2" fill="#000" font-family="Liberation Sans, sans-serif" font-weight="bold">NMC622</text>
<text stroke="#000" stroke-width="0.3" transform="translate(176.53,392) rotate(-90)" text-anchor="end" font-size="9.2" fill="#000" font-family="Liberation Sans, sans-serif" font-weight="bold">NMC622</text>
<text stroke="#000" stroke-width="0.3" transform="translate(199.22,392) rotate(-90)" text-anchor="end" font-size="9.2" fill="#000" font-family="Liberation Sans, sans-serif" font-weight="bold">NMC811</text>
<text stroke="#000" stroke-width="0.3" transform="translate(221.91,392) rotate(-90)" text-anchor="end" font-size="9.2" fill="#000" font-family="Liberation Sans, sans-serif" font-weight="bold">NMC811</text>
<text stroke="#000" stroke-width="0.3" x="100.2" y="441" font-size="11.5" fill="#000" font-family="Liberation Sans, sans-serif" font-weight="bold">Cell chemistry</text>
<text stroke="#128a14" stroke-width="0.25" transform="translate(14.3,391.7) rotate(-90)" font-size="11.8" fill="#128a14" font-family="Liberation Sans, sans-serif" font-weight="bold">Specific capacity <tspan font-size="6.8" dy="-0.7">(</tspan><tspan dy="0.7">mAh g</tspan><tspan font-size="11.51" dy="-3.5">-1</tspan><tspan font-size="6.8" dy="2.8">)</tspan></text>
<text stroke="#ff66ff" transform="translate(270.7,400) rotate(-90)" font-size="12.0" stroke-width="0.12" fill="#ff66ff" font-family="Liberation Sans, sans-serif" font-weight="bold">Normalized Capacity retention</text>
<text stroke="#000" x="7.2" y="224.2" font-size="10.9" fill="#000" stroke-width="0.6" font-family="Liberation Sans, sans-serif" font-weight="bold">(</text>
<text stroke="#000" transform="translate(13.3,223.4) scale(1.1,0.88)" font-size="12" fill="#000" stroke-width="0.7" font-family="Liberation Sans, sans-serif" font-weight="bold">b</text>
<text stroke="#000" x="22.8" y="224.2" font-size="10.9" fill="#000" stroke-width="0.6" font-family="Liberation Sans, sans-serif" font-weight="bold">)</text>
<rect x="344.78" y="343.44" width="15.07" height="35.06" fill="#56c17c" stroke="#45a866" stroke-width="0.6"/>
<rect x="349.95" y="271.56" width="4.72" height="106.94" fill="#ff7aff" stroke="#a850a8" stroke-width="0.5"/>
<rect x="370.89" y="332.49" width="15.07" height="46.01" fill="#56c17c" stroke="#45a866" stroke-width="0.6"/>
<rect x="376.07" y="283.88" width="4.72" height="94.62" fill="#ff7aff" stroke="#a850a8" stroke-width="0.5"/>
<rect x="397.01" y="311.24" width="15.07" height="67.26" fill="#56c17c" stroke="#45a866" stroke-width="0.6"/>
<rect x="402.18" y="272.86" width="4.72" height="105.64" fill="#ff7aff" stroke="#a850a8" stroke-width="0.5"/>
<rect x="423.12" y="251.15" width="15.07" height="127.35" fill="#56c17c" stroke="#45a866" stroke-width="0.6"/>
<rect x="428.3" y="276.04" width="4.72" height="102.46" fill="#ff7aff" stroke="#a850a8" stroke-width="0.5"/>
<rect x="449.24" y="279.37" width="15.07" height="99.13" fill="#56c17c" stroke="#45a866" stroke-width="0.6"/>
<rect x="454.41" y="267.26" width="4.72" height="111.24" fill="#ff7aff" stroke="#a850a8" stroke-width="0.5"/>
<rect x="475.35" y="261.44" width="15.07" height="117.06" fill="#56c17c" stroke="#45a866" stroke-width="0.6"/>
<rect x="480.52" y="279.77" width="4.72" height="98.73" fill="#ff7aff" stroke="#a850a8" stroke-width="0.5"/>
<line x1="325.7" y1="229.1" x2="509" y2="229.1" stroke="#1a1a1a" stroke-width="1.3"/>
<line x1="325.7" y1="378.5" x2="509" y2="378.5" stroke="#1a1a1a" stroke-width="1.3"/>
<line x1="326.2" y1="229.1" x2="326.2" y2="378.5" stroke="#14961e" stroke-width="1.4"/>
<line x1="509" y1="229.1" x2="509" y2="378.5" stroke="#ff7eff" stroke-width="1.2"/>
<line x1="326.2" y1="378.5" x2="326.2" y2="381.5" stroke="#1a1a1a" stroke-width="1.2"/>
<line x1="326.2" y1="229.1" x2="326.2" y2="232.1" stroke="#1a1a1a" stroke-width="1.2"/>
<line x1="339.26" y1="378.5" x2="339.26" y2="380.5" stroke="#1a1a1a" stroke-width="1.2"/>
<line x1="339.26" y1="229.1" x2="339.26" y2="231.1" stroke="#1a1a1a" stroke-width="1.2"/>
<line x1="352.31" y1="378.5" x2="352.31" y2="381.5" stroke="#1a1a1a" stroke-width="1.2"/>
<line x1="352.31" y1="229.1" x2="352.31" y2="232.1" stroke="#1a1a1a" stroke-width="1.2"/>
<line x1="365.37" y1="378.5" x2="365.37" y2="380.5" stroke="#1a1a1a" stroke-width="1.2"/>
<line x1="365.37" y1="229.1" x2="365.37" y2="231.1" stroke="#1a1a1a" stroke-width="1.2"/>
<line x1="378.43" y1="378.5" x2="378.43" y2="381.5" stroke="#1a1a1a" stroke-width="1.2"/>
<line x1="378.43" y1="229.1" x2="378.43" y2="232.1" stroke="#1a1a1a" stroke-width="1.2"/>
<line x1="391.49" y1="378.5" x2="391.49" y2="380.5" stroke="#1a1a1a" stroke-width="1.2"/>
<line x1="391.49" y1="229.1" x2="391.49" y2="231.1" stroke="#1a1a1a" stroke-width="1.2"/>
<line x1="404.54" y1="378.5" x2="404.54" y2="381.5" stroke="#1a1a1a" stroke-width="1.2"/>
<line x1="404.54" y1="229.1" x2="404.54" y2="232.1" stroke="#1a1a1a" stroke-width="1.2"/>
<line x1="417.6" y1="378.5" x2="417.6" y2="380.5" stroke="#1a1a1a" stroke-width="1.2"/>
<line x1="417.6" y1="229.1" x2="417.6" y2="231.1" stroke="#1a1a1a" stroke-width="1.2"/>
<line x1="430.66" y1="378.5" x2="430.66" y2="381.5" stroke="#1a1a1a" stroke-width="1.2"/>
<line x1="430.66" y1="229.1" x2="430.66" y2="232.1" stroke="#1a1a1a" stroke-width="1.2"/>
<line x1="443.71" y1="378.5" x2="443.71" y2="380.5" stroke="#1a1a1a" stroke-width="1.2"/>
<line x1="443.71" y1="229.1" x2="443.71" y2="231.1" stroke="#1a1a1a" stroke-width="1.2"/>
<line x1="456.77" y1="378.5" x2="456.77" y2="381.5" stroke="#1a1a1a" stroke-width="1.2"/>
<line x1="456.77" y1="229.1" x2="456.77" y2="232.1" stroke="#1a1a1a" stroke-width="1.2"/>
<line x1="469.83" y1="378.5" x2="469.83" y2="380.5" stroke="#1a1a1a" stroke-width="1.2"/>
<line x1="469.83" y1="229.1" x2="469.83" y2="231.1" stroke="#1a1a1a" stroke-width="1.2"/>
<line x1="482.89" y1="378.5" x2="482.89" y2="381.5" stroke="#1a1a1a" stroke-width="1.2"/>
<line x1="482.89" y1="229.1" x2="482.89" y2="232.1" stroke="#1a1a1a" stroke-width="1.2"/>
<line x1="495.94" y1="378.5" x2="495.94" y2="380.5" stroke="#1a1a1a" stroke-width="1.2"/>
<line x1="495.94" y1="229.1" x2="495.94" y2="231.1" stroke="#1a1a1a" stroke-width="1.2"/>
<line x1="509" y1="378.5" x2="509" y2="381.5" stroke="#1a1a1a" stroke-width="1.2"/>
<line x1="509" y1="229.1" x2="509" y2="232.1" stroke="#1a1a1a" stroke-width="1.2"/>
<line x1="326.2" y1="378.5" x2="323.2" y2="378.5" stroke="#14961e" stroke-width="1.3"/>
<text stroke="#128a14" stroke-width="0.25" transform="translate(321.2,381.4) scale(0.96,1)" text-anchor="end" font-size="9.4" fill="#128a14" font-family="Liberation Sans, sans-serif" font-weight="bold">150</text>
<line x1="326.2" y1="370.2" x2="324.4" y2="370.2" stroke="#14961e" stroke-width="1.3"/>
<line x1="326.2" y1="361.9" x2="323.2" y2="361.9" stroke="#14961e" stroke-width="1.3"/>
<text stroke="#128a14" stroke-width="0.25" transform="translate(321.2,364.8) scale(0.96,1)" text-anchor="end" font-size="9.4" fill="#128a14" font-family="Liberation Sans, sans-serif" font-weight="bold">160</text>
<line x1="326.2" y1="353.6" x2="324.4" y2="353.6" stroke="#14961e" stroke-width="1.3"/>
<line x1="326.2" y1="345.3" x2="323.2" y2="345.3" stroke="#14961e" stroke-width="1.3"/>
<text stroke="#128a14" stroke-width="0.25" transform="translate(321.2,348.2) scale(0.96,1)" text-anchor="end" font-size="9.4" fill="#128a14" font-family="Liberation Sans, sans-serif" font-weight="bold">170</text>
<line x1="326.2" y1="337" x2="324.4" y2="337" stroke="#14961e" stroke-width="1.3"/>
<line x1="326.2" y1="328.7" x2="323.2" y2="328.7" stroke="#14961e" stroke-width="1.3"/>
<text stroke="#128a14" stroke-width="0.25" transform="translate(321.2,331.6) scale(0.96,1)" text-anchor="end" font-size="9.4" fill="#128a14" font-family="Liberation Sans, sans-serif" font-weight="bold">180</text>
<line x1="326.2" y1="320.4" x2="324.4" y2="320.4" stroke="#14961e" stroke-width="1.3"/>
<line x1="326.2" y1="312.1" x2="323.2" y2="312.1" stroke="#14961e" stroke-width="1.3"/>
<text stroke="#128a14" stroke-width="0.25" transform="translate(321.2,315) scale(0.96,1)" text-anchor="end" font-size="9.4" fill="#128a14" font-family="Liberation Sans, sans-serif" font-weight="bold">190</text>
<line x1="326.2" y1="303.8" x2="324.4" y2="303.8" stroke="#14961e" stroke-width="1.3"/>
<line x1="326.2" y1="295.5" x2="323.2" y2="295.5" stroke="#14961e" stroke-width="1.3"/>
<text stroke="#128a14" stroke-width="0.25" transform="translate(321.2,298.4) scale(0.96,1)" text-anchor="end" font-size="9.4" fill="#128a14" font-family="Liberation Sans, sans-serif" font-weight="bold">200</text>
<line x1="326.2" y1="287.2" x2="324.4" y2="287.2" stroke="#14961e" stroke-width="1.3"/>
<line x1="326.2" y1="278.9" x2="323.2" y2="278.9" stroke="#14961e" stroke-width="1.3"/>
<text stroke="#128a14" stroke-width="0.25" transform="translate(321.2,281.8) scale(0.96,1)" text-anchor="end" font-size="9.4" fill="#128a14" font-family="Liberation Sans, sans-serif" font-weight="bold">210</text>
<line x1="326.2" y1="270.6" x2="324.4" y2="270.6" stroke="#14961e" stroke-width="1.3"/>
<line x1="326.2" y1="262.3" x2="323.2" y2="262.3" stroke="#14961e" stroke-width="1.3"/>
<text stroke="#128a14" stroke-width="0.25" transform="translate(321.2,265.2) scale(0.96,1)" text-anchor="end" font-size="9.4" fill="#128a14" font-family="Liberation Sans, sans-serif" font-weight="bold">220</text>
<line x1="326.2" y1="254" x2="324.4" y2="254" stroke="#14961e" stroke-width="1.3"/>
<line x1="326.2" y1="245.7" x2="323.2" y2="245.7" stroke="#14961e" stroke-width="1.3"/>
<text stroke="#128a14" stroke-width="0.25" transform="translate(321.2,248.6) scale(0.96,1)" text-anchor="end" font-size="9.4" fill="#128a14" font-family="Liberation Sans, sans-serif" font-weight="bold">230</text>
<line x1="326.2" y1="237.4" x2="324.4" y2="237.4" stroke="#14961e" stroke-width="1.3"/>
<line x1="326.2" y1="229.1" x2="323.2" y2="229.1" stroke="#14961e" stroke-width="1.3"/>
<text stroke="#128a14" stroke-width="0.25" transform="translate(321.2,232) scale(0.96,1)" text-anchor="end" font-size="9.4" fill="#128a14" font-family="Liberation Sans, sans-serif" font-weight="bold">240</text>
<line x1="509" y1="378.5" x2="512" y2="378.5" stroke="#ff7eff" stroke-width="1.1"/>
<text stroke="#ff66ff" transform="translate(514,381.1) scale(0.93,1)" font-size="9.4" stroke-width="0.1" fill="#ff66ff" font-family="Liberation Sans, sans-serif" font-weight="bold">40</text>
<line x1="509" y1="369.16" x2="510.8" y2="369.16" stroke="#ff7eff" stroke-width="1.1"/>
<line x1="509" y1="359.82" x2="512" y2="359.82" stroke="#ff7eff" stroke-width="1.1"/>
<text stroke="#ff66ff" transform="translate(514,362.43) scale(0.93,1)" font-size="9.4" stroke-width="0.1" fill="#ff66ff" font-family="Liberation Sans, sans-serif" font-weight="bold">50</text>
<line x1="509" y1="350.49" x2="510.8" y2="350.49" stroke="#ff7eff" stroke-width="1.1"/>
<line x1="509" y1="341.15" x2="512" y2="341.15" stroke="#ff7eff" stroke-width="1.1"/>
<text stroke="#ff66ff" transform="translate(514,343.75) scale(0.93,1)" font-size="9.4" stroke-width="0.1" fill="#ff66ff" font-family="Liberation Sans, sans-serif" font-weight="bold">60</text>
<line x1="509" y1="331.81" x2="510.8" y2="331.81" stroke="#ff7eff" stroke-width="1.1"/>
<line x1="509" y1="322.48" x2="512" y2="322.48" stroke="#ff7eff" stroke-width="1.1"/>
<text stroke="#ff66ff" transform="translate(514,325.08) scale(0.93,1)" font-size="9.4" stroke-width="0.1" fill="#ff66ff" font-family="Liberation Sans, sans-serif" font-weight="bold">70</text>
<line x1="509" y1="313.14" x2="510.8" y2="313.14" stroke="#ff7eff" stroke-width="1.1"/>
<line x1="509" y1="303.8" x2="512" y2="303.8" stroke="#ff7eff" stroke-width="1.1"/>
<text stroke="#ff66ff" transform="translate(514,306.4) scale(0.93,1)" font-size="9.4" stroke-width="0.1" fill="#ff66ff" font-family="Liberation Sans, sans-serif" font-weight="bold">80</text>
<line x1="509" y1="294.46" x2="510.8" y2="294.46" stroke="#ff7eff" stroke-width="1.1"/>
<line x1="509" y1="285.12" x2="512" y2="285.12" stroke="#ff7eff" stroke-width="1.1"/>
<text stroke="#ff66ff" transform="translate(514,287.73) scale(0.93,1)" font-size="9.4" stroke-width="0.1" fill="#ff66ff" font-family="Liberation Sans, sans-serif" font-weight="bold">90</text>
<line x1="509" y1="275.79" x2="510.8" y2="275.79" stroke="#ff7eff" stroke-width="1.1"/>
<line x1="509" y1="266.45" x2="512" y2="266.45" stroke="#ff7eff" stroke-width="1.1"/>
<text stroke="#ff66ff" transform="translate(514,269.05) scale(0.93,1)" font-size="9.4" stroke-width="0.1" fill="#ff66ff" font-family="Liberation Sans, sans-serif" font-weight="bold">100</text>
<line x1="509" y1="257.11" x2="510.8" y2="257.11" stroke="#ff7eff" stroke-width="1.1"/>
<line x1="509" y1="247.78" x2="512" y2="247.78" stroke="#ff7eff" stroke-width="1.1"/>
<text stroke="#ff66ff" transform="translate(514,250.38) scale(0.93,1)" font-size="9.4" stroke-width="0.1" fill="#ff66ff" font-family="Liberation Sans, sans-serif" font-weight="bold">110</text>
<line x1="509" y1="238.44" x2="510.8" y2="238.44" stroke="#ff7eff" stroke-width="1.1"/>
<line x1="509" y1="229.1" x2="512" y2="229.1" stroke="#ff7eff" stroke-width="1.1"/>
<text stroke="#ff66ff" transform="translate(514,231.7) scale(0.93,1)" font-size="9.4" stroke-width="0.1" fill="#ff66ff" font-family="Liberation Sans, sans-serif" font-weight="bold">120</text>
<text stroke="#000" stroke-width="0.3" transform="translate(352.91,385.9) rotate(-45)" text-anchor="end" font-size="9.3" fill="#000" font-family="Liberation Sans, sans-serif" font-weight="bold">NMC111</text>
<text stroke="#000" stroke-width="0.3" transform="translate(379.03,385.9) rotate(-45)" text-anchor="end" font-size="9.3" fill="#000" font-family="Liberation Sans, sans-serif" font-weight="bold">NMC532</text>
<text stroke="#000" stroke-width="0.3" transform="translate(405.14,385.9) rotate(-45)" text-anchor="end" font-size="9.3" fill="#000" font-family="Liberation Sans, sans-serif" font-weight="bold">NMC622</text>
<text stroke="#000" stroke-width="0.3" transform="translate(431.26,385.9) rotate(-45)" text-anchor="end" font-size="9.3" fill="#000" font-family="Liberation Sans, sans-serif" font-weight="bold">NMC811</text>
<text stroke="#000" stroke-width="0.3" transform="translate(457.37,385.9) rotate(-45)" text-anchor="end" font-size="9.3" fill="#000" font-family="Liberation Sans, sans-serif" font-weight="bold">NMC830512</text>
<text stroke="#000" stroke-width="0.3" transform="translate(483.49,385.9) rotate(-45)" text-anchor="end" font-size="9.3" fill="#000" font-family="Liberation Sans, sans-serif" font-weight="bold">NMC905.54.5</text>
<text stroke="#000" stroke-width="0.3" x="351.9" y="429.5" font-size="12.2" fill="#000" font-family="Liberation Sans, sans-serif" font-weight="bold">Cell chemistry</text>
<text stroke="#128a14" stroke-width="0.25" transform="translate(300,390) rotate(-90)" font-size="12.1" fill="#128a14" font-family="Liberation Sans, sans-serif" font-weight="bold">Specific capacity <tspan font-size="6.8" dy="-0.7">(</tspan><tspan dy="0.7">mAh g</tspan><tspan font-size="11.8" dy="-4.1">-1</tspan><tspan font-size="6.8" dy="3.4">)</tspan></text>
<text stroke="#ff66ff" transform="translate(541.8,374.2) rotate(-90)" font-size="12.0" stroke-width="0.12" fill="#ff66ff" font-family="Liberation Sans, sans-serif" font-weight="bold">Capacity retention (%)</text>
<text stroke="#000" x="278.9" y="227.2" font-size="10.9" fill="#000" stroke-width="0.6" font-family="Liberation Sans, sans-serif" font-weight="bold">(</text>
<text stroke="#000" transform="translate(284.6,228.1) scale(1.06,0.94)" font-size="11.8" fill="#000" stroke-width="0.7" font-family="Liberation Sans, sans-serif" font-weight="bold">c</text>
<text stroke="#000" x="292.2" y="227.2" font-size="10.9" fill="#000" stroke-width="0.6" font-family="Liberation Sans, sans-serif" font-weight="bold">)</text>
</svg>
</body></html>
